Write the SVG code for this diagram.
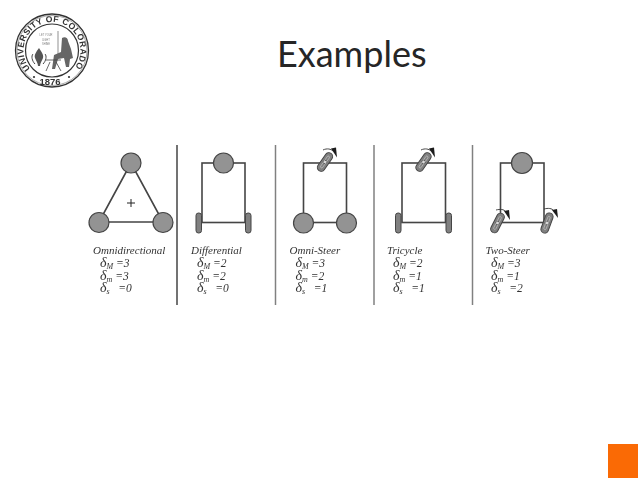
<svg xmlns="http://www.w3.org/2000/svg" width="638" height="478" viewBox="0 0 638 478">
<style>
.title{font:36px Lato,"Liberation Sans",sans-serif;fill:#262626}
.name{font:italic 11px "Liberation Serif",serif;fill:#333}
.d{font:italic 11.500px "Liberation Serif",serif;fill:#333}
.g{font-size:14px}
.sub{font-size:8px}
.body{fill:none;stroke:#444;stroke-width:1.600}
.ball{fill:#939393;stroke:#444;stroke-width:1.200}
.wheel{fill:#808080;stroke:#444;stroke-width:1}
.axle{fill:#d8d8d8;stroke:#444;stroke-width:.8}
.turn{fill:none;stroke:#333;stroke-width:.9}
.head{fill:#1c1c1c}
.sep{stroke:#808080;stroke-width:1.500}
.s1{font:bold 8.600px "Liberation Sans",sans-serif;fill:#333}
.s2{font:bold 9.500px "Liberation Sans",sans-serif;fill:#333}
.s3{font:2.600px "Liberation Sans",sans-serif;fill:#777}
</style>
<defs>
<filter id="soft" x="-5%" y="-5%" width="110%" height="110%"><feGaussianBlur stdDeviation="0.45"/></filter>
<path id="seal-path" d="M30.200 68.800A28.500 28.500 0 1 1 73.800 68.800"/>
<g id="sw"><rect class="wheel" x="-3.800" y="-10.500" width="7.600" height="21" rx="3.800"/><circle class="axle" r="1.800"/><rect x="-1.200" y="-7" width="2.400" height="14" rx="1.200" fill="none" stroke="#c8c8c8" stroke-width=".6"/></g>
</defs>
<rect width="638" height="478" fill="#fff"/>
<text class="title" x="277" y="67">Examples</text>
<g id="seal" filter="url(#soft)">
<circle cx="52" cy="50.500" r="36.500" fill="none" stroke="#333" stroke-width="1.300"/>
<circle cx="52" cy="50.500" r="35" fill="none" stroke="#555" stroke-width=".5"/>
<circle cx="52" cy="50.500" r="26.500" fill="none" stroke="#333" stroke-width="1.200"/>
<text class="s1"><textPath href="#seal-path" textLength="127">UNIVERSITY OF COLORADO</textPath></text>
<text class="s2" x="50" y="84.500" text-anchor="middle">1876</text>
<circle cx="34" cy="77" r="1.100" fill="#333"/><circle cx="69" cy="77" r="1.100" fill="#333"/>
<text class="s3" x="46" y="36" text-anchor="middle">LET YOUR</text><text class="s3" x="46" y="40.500" text-anchor="middle">LIGHT</text><text class="s3" x="46" y="45" text-anchor="middle">SHINE</text>
<path d="M39 48c-3 4-5 7-4 10 1 3 3 5 3 8h2c0-3 2-5 3-8 1-3-2-7-4-10z" fill="#555"/>
<path d="M33 54c-2 2-1 7 2 10M45 54c2 2 1 7-2 10" fill="none" stroke="#444" stroke-width="1"/>
<path d="M58 31v24" fill="none" stroke="#666" stroke-width=".7"/>
<path d="M62 38c3-2 6 0 6 3l3 8 2 9-3 1-1 8h-3l-2-9-6 1-3 10h-3l2-14 7-3z" fill="#666"/>
<path d="M50 62l-4 9M56 62l5 9M46 60h15" stroke="#444" stroke-width=".8" fill="none"/>
</g>
<g filter="url(#soft)">
<g id="connectors">
<line class="sep" style="stroke:#444" x1="177" y1="145" x2="177" y2="305"/>
<line class="sep" x1="275.500" y1="145" x2="275.500" y2="305"/>
<line class="sep" x1="374" y1="145" x2="374" y2="305"/>
<line class="sep" x1="472.500" y1="145" x2="472.500" y2="305"/>
</g>
<g id="omnidirectional">
<path class="body" d="M131 163L99 222H163Z"/>
<circle class="ball" cx="131" cy="163" r="10"/><circle class="ball" cx="99" cy="222.500" r="10"/><circle class="ball" cx="163" cy="222.500" r="10"/>
<path d="M131 199v8M127 203h8" stroke="#222" stroke-width="1"/>
<text class="name" x="93" y="254">Omnidirectional</text>
<text class="d" x="100" y="267"><tspan class="g">δ</tspan><tspan class="sub" dy="2">M</tspan><tspan dy="-2"> =3</tspan></text>
<text class="d" x="100" y="279.500"><tspan class="g">δ</tspan><tspan class="sub" dy="2">m</tspan><tspan dy="-2"> =3</tspan></text>
<text class="d" x="100" y="292"><tspan class="g">δ</tspan><tspan class="sub" dy="2">s</tspan><tspan dy="-2" xml:space="preserve">   =0</tspan></text>
</g>
<g id="differential">
<rect class="body" x="202" y="163" width="43" height="59.500"/>
<circle class="ball" cx="223.500" cy="163" r="10"/>
<rect class="wheel" x="196" y="213" width="5.500" height="20" rx="2.500"/><rect class="wheel" x="245.500" y="213" width="5.500" height="20" rx="2.500"/>
<text class="name" x="191" y="254">Differential</text>
<text class="d" x="197" y="267"><tspan class="g">δ</tspan><tspan class="sub" dy="2">M</tspan><tspan dy="-2"> =2</tspan></text>
<text class="d" x="197" y="279.500"><tspan class="g">δ</tspan><tspan class="sub" dy="2">m</tspan><tspan dy="-2"> =2</tspan></text>
<text class="d" x="197" y="292"><tspan class="g">δ</tspan><tspan class="sub" dy="2">s</tspan><tspan dy="-2" xml:space="preserve">   =0</tspan></text>
</g>
<g id="omni-steer">
<rect class="body" x="303.500" y="163" width="43" height="59.500"/>
<circle class="ball" cx="303.500" cy="223" r="10"/><circle class="ball" cx="346.500" cy="223" r="10"/>
<use href="#sw" transform="translate(325 162) rotate(35)"/>
<path class="turn" d="M323 150c4-2 8-1 10 1"/><path class="head" d="M331 148.500l5-1 1 10z"/>
<text class="name" x="289.500" y="254">Omni-Steer</text>
<text class="d" x="295.500" y="267"><tspan class="g">δ</tspan><tspan class="sub" dy="2">M</tspan><tspan dy="-2"> =3</tspan></text>
<text class="d" x="295.500" y="279.500"><tspan class="g">δ</tspan><tspan class="sub" dy="2">m</tspan><tspan dy="-2"> =2</tspan></text>
<text class="d" x="295.500" y="292"><tspan class="g">δ</tspan><tspan class="sub" dy="2">s</tspan><tspan dy="-2" xml:space="preserve">   =1</tspan></text>
</g>
<g id="tricycle">
<rect class="body" x="402" y="163" width="43.500" height="59.500"/>
<rect class="wheel" x="395.500" y="213" width="5.500" height="20" rx="2.500"/><rect class="wheel" x="446" y="213" width="5.500" height="20" rx="2.500"/>
<use href="#sw" transform="translate(423.500 162) rotate(35)"/>
<path class="turn" d="M421 150c4-2 8-1 10 1"/><path class="head" d="M429 148.500l5-1 1 10z"/>
<text class="name" x="387" y="254">Tricycle</text>
<text class="d" x="393" y="267"><tspan class="g">δ</tspan><tspan class="sub" dy="2">M</tspan><tspan dy="-2"> =2</tspan></text>
<text class="d" x="393" y="279.500"><tspan class="g">δ</tspan><tspan class="sub" dy="2">m</tspan><tspan dy="-2"> =1</tspan></text>
<text class="d" x="393" y="292"><tspan class="g">δ</tspan><tspan class="sub" dy="2">s</tspan><tspan dy="-2" xml:space="preserve">   =1</tspan></text>
</g>
<g id="two-steer">
<rect class="body" x="500.500" y="163" width="43.500" height="59.500"/>
<circle class="ball" cx="522" cy="163" r="10.500"/>
<use href="#sw" transform="translate(497.500 223) rotate(27)"/><use href="#sw" transform="translate(547 223) rotate(20)"/>
<path class="turn" d="M496 210c4-1 8-1 10 2"/><path class="head" d="M504 211l5-1 1 10z"/>
<path class="turn" d="M544 209c4-1 8-1 10 2"/><path class="head" d="M552 210l5-1 1 9z"/>
<text class="name" x="485.500" y="254">Two-Steer</text>
<text class="d" x="491" y="267"><tspan class="g">δ</tspan><tspan class="sub" dy="2">M</tspan><tspan dy="-2"> =3</tspan></text>
<text class="d" x="491" y="279.500"><tspan class="g">δ</tspan><tspan class="sub" dy="2">m</tspan><tspan dy="-2"> =1</tspan></text>
<text class="d" x="491" y="292"><tspan class="g">δ</tspan><tspan class="sub" dy="2">s</tspan><tspan dy="-2" xml:space="preserve">   =2</tspan></text>
</g>
</g>
<rect x="608" y="444" width="30" height="34" fill="#fa6a05"/>
</svg>
